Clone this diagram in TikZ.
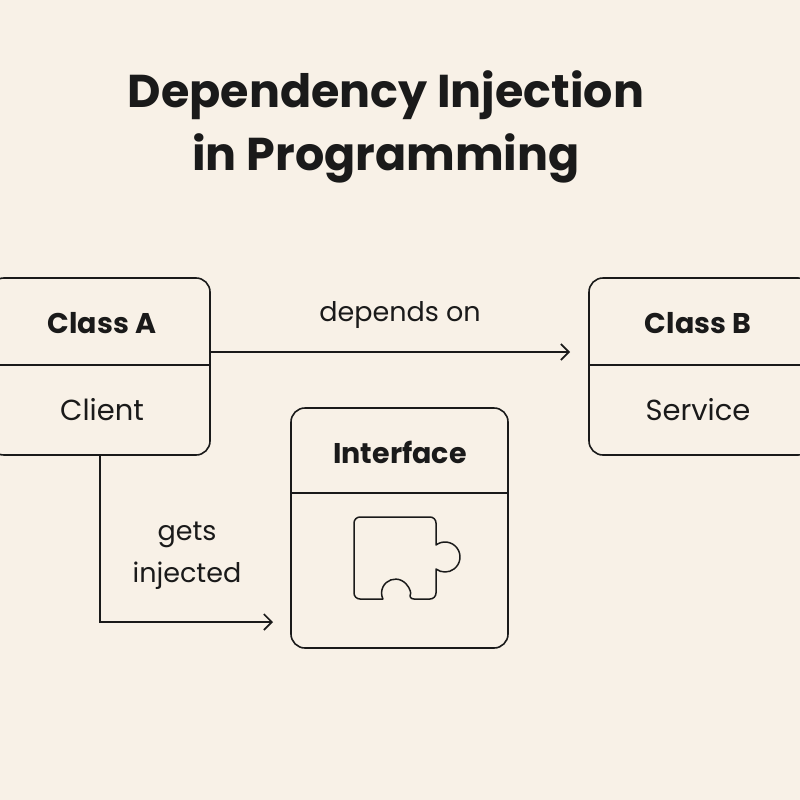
\documentclass[tikz,border=0pt]{standalone}
\usepackage{fontspec}
\setmainfont{Poppins}
\usetikzlibrary{arrows.meta}
\definecolor{bg}{HTML}{F8F1E7}
\definecolor{ink}{HTML}{1A1A1A}
\begin{document}
\begin{tikzpicture}[x=1pt,y=-1pt,
  box/.style={draw=ink,line width=1.6pt,rounded corners=14pt},
  ln/.style={draw=ink,line width=1.6pt},
  arr/.style={ln,-{Straight Barb[length=8pt,width=16pt]}},
  hd/.style={font=\fontsize{28.5}{30}\selectfont\bfseries,text=ink},
  bd/.style={font=\fontsize{29}{30}\selectfont,text=ink},
  lb/.style={font=\fontsize{27}{42}\selectfont,text=ink,align=center}]
\fill[bg] (0,0) rectangle (800,800);
\useasboundingbox (0,0) rectangle (800,800);
\node[font=\fontsize{46}{63}\selectfont\bfseries,text=ink,align=center] (title) at (386,127) {Dependency Injection\\in Programming};
% Class A
\draw[box] (-10,278) rectangle (210,455);
\draw[ln] (-10,365) -- (210,365);
\node[hd] (ca) at (102,323) {Class A};
\node[bd] (cl) at (102,410) {Client};
\coordinate (aR) at (210,352);
\coordinate (aB) at (100,455);
% Class B
\draw[box] (589,278) rectangle (812,455);
\draw[ln] (589,365) -- (812,365);
\node[hd] (cb) at (698,323) {Class B};
\node[bd] (sv) at (698,410) {Service};
\coordinate (bL) at (570,352);
% Interface
\draw[box] (291,408) rectangle (508,648);
\draw[ln] (291,493) -- (508,493);
\node[hd] (itf) at (400,452) {Interface};
\coordinate (iL) at (273,622);
% puzzle
\draw[ln,line width=1.5pt,line join=round] (436,545)
  arc[start angle=-126.87,end angle=126.87,radius=15]
  [rounded corners=6pt] -- (436,599) -- (408,599) [sharp corners]
  arc[start angle=25.6,end angle=-205.6,radius=13.9]
  [rounded corners=6pt] -- (354,599) -- (354,517) -- (436,517) [sharp corners] -- cycle;
% connectors
\draw[arr] (aR) -- (bL);
\node[lb] (dep) at (400,315) {depends on};
\draw[arr] (aB) -- (100,622) -- (iL);
\node[lb] (gi) at (187,556) {gets\\injected};
\end{tikzpicture}
\end{document}
